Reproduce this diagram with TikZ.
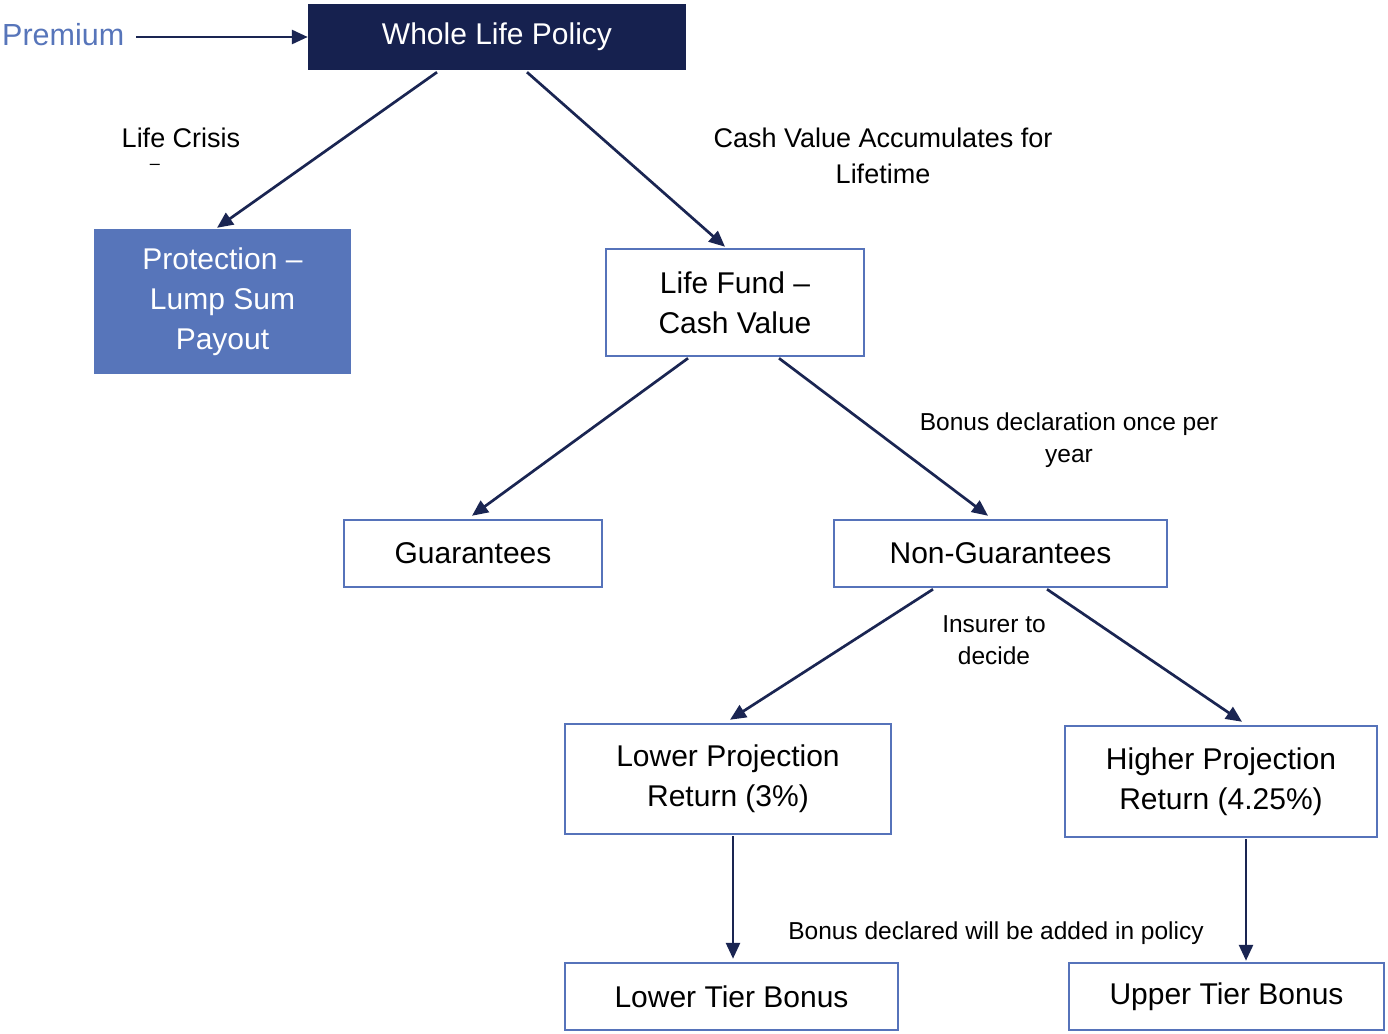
\documentclass[tikz,border=0pt]{standalone}
\usepackage{fontspec}
\setmainfont{Liberation Sans}
\usetikzlibrary{arrows.meta}
\definecolor{navy}{HTML}{16214F}
\definecolor{arrowc}{HTML}{1A2552}
\definecolor{bluefill}{HTML}{5775BA}
\definecolor{blueline}{HTML}{5673BA}
\tikzset{
  boxtext/.style={font=\fontsize{30}{40}\selectfont, align=center},
  wbox/.style={boxtext, draw=blueline, line width=2.5pt, fill=white, inner sep=0pt, text=black},
  darkbox/.style={boxtext, fill=navy, text=white, inner sep=0pt},
  bluebox/.style={boxtext, fill=bluefill, text=white, inner sep=0pt},
  arr/.style={draw=arrowc, line width=2.7pt, -{Triangle[length=16pt,width=14pt]}},
  biglbl/.style={font=\fontsize{27}{36}\selectfont, align=center, inner sep=0pt},
  smalllbl/.style={font=\fontsize{24.5}{32}\selectfont, align=center, inner sep=0pt},
}
\begin{document}
\begin{tikzpicture}[x=1pt,y=-1pt]
\useasboundingbox[fill=white] (0,0) rectangle (1388,1033);
% boxes
\node[darkbox, minimum width=378pt, minimum height=66pt] (wlp) at (497,37) {Whole Life Policy};
\node[bluebox, minimum width=257pt, minimum height=145pt] (prot) at (222.5,301.5) {Protection –\\Lump Sum\\Payout};
\node[wbox, minimum width=258pt, minimum height=107pt] (fund) at (735,302.5) {Life Fund –\\Cash Value};
\node[wbox, minimum width=258pt, minimum height=67pt] (guar) at (473,553.5) {Guarantees};
\node[wbox, minimum width=333pt, minimum height=67pt] (nong) at (1000.5,553.5) {Non-Guarantees};
\node[wbox, minimum width=326pt, minimum height=110pt] (lowp) at (728,779) {Lower Projection\\Return (3\%)};
\node[wbox, minimum width=312pt, minimum height=111pt] (highp) at (1221,781.5) {Higher Projection\\Return (4.25\%)};
\node[wbox, minimum width=333pt, minimum height=67pt] (lowt) at (731.5,996.5) {Lower Tier Bonus};
\node[wbox, minimum width=315pt, minimum height=67pt] (uppt) at (1226.5,996.5) {Upper Tier Bonus};
% labels
\node[font=\fontsize{30.5}{36}\selectfont, text=bluefill, inner sep=0pt, anchor=west] (prem) at (2,35) {Premium};
\node[biglbl] (crisis) at (181,138) {Life Crisis};
\node[font=\fontsize{18}{20}\selectfont, inner sep=0pt] (dash) at (155,167) {–};
\node[biglbl] (cash) at (883,156) {Cash Value Accumulates for\\Lifetime};
\node[smalllbl] (bonusd) at (1069,440) {Bonus declaration once per\\year};
\node[smalllbl] (insurer) at (994,640) {Insurer to\\decide};
\node[smalllbl] (added) at (996,933) {Bonus declared will be added in policy};
% connectors
\draw[arr] ([xshift=12pt]prem.east |- wlp.west) -- (wlp.west);
\draw[arr] ([xshift=-60pt,yshift=-2pt]wlp.south) -- ([xshift=-5.5pt,yshift=1pt]prot.north);
\draw[arr] ([xshift=30pt,yshift=-2pt]wlp.south) -- ([xshift=-10pt,yshift=1pt]fund.north);
\draw[arr] ([xshift=-47pt,yshift=-1pt]fund.south) -- ([xshift=-1pt,yshift=3pt]guar.north);
\draw[arr] ([xshift=44pt,yshift=-1pt]fund.south) -- ([xshift=-12.5pt,yshift=3pt]nong.north);
\draw[arr] ([xshift=-67.5pt,yshift=-1pt]nong.south) -- ([xshift=2pt,yshift=3pt]lowp.north);
\draw[arr] ([xshift=46.5pt,yshift=-1pt]nong.south) -- ([xshift=21pt,yshift=3pt]highp.north);
\draw[arr] ([xshift=5pt,yshift=-1pt]lowp.south) -- ([xshift=1.5pt,yshift=3pt]lowt.north);
\draw[arr] ([xshift=25pt,yshift=-1pt]highp.south) -- ([xshift=19.5pt,yshift=1pt]uppt.north);
\end{tikzpicture}
\end{document}
